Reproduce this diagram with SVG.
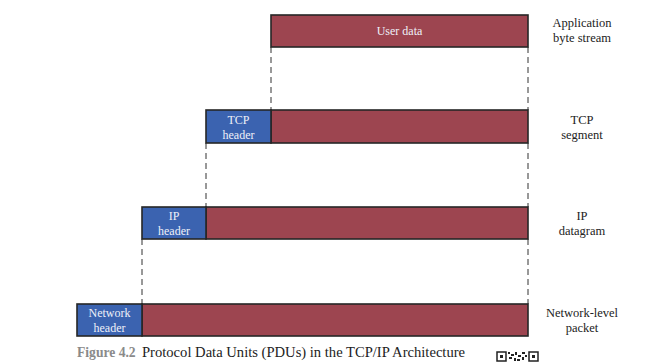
<svg xmlns="http://www.w3.org/2000/svg" width="667" height="364" viewBox="0 0 667 364">
<style>
.data{fill:#9d4550;stroke:#262626;stroke-width:1.6}
.hdr{fill:#3b63b0;stroke:#262626;stroke-width:1.6}
.dash{stroke:#333;stroke-width:1;stroke-dasharray:6,4;fill:none}
.ht{font-family:"Liberation Serif",serif;font-size:12px;fill:#eef0f8;text-anchor:middle}
.lt{font-family:"Liberation Serif",serif;font-size:12.5px;fill:#222;text-anchor:middle}
.cap{font-family:"Liberation Serif",serif;font-size:14.6px;fill:#222}
</style>
<rect width="667" height="364" fill="#fff"/>
<g id="connectors">
<line class="dash" x1="271" y1="47" x2="271" y2="110"/>
<line class="dash" x1="528" y1="47" x2="528" y2="110"/>
<line class="dash" x1="206" y1="143" x2="206" y2="207"/>
<line class="dash" x1="528" y1="143" x2="528" y2="207"/>
<line class="dash" x1="142" y1="239" x2="142" y2="304"/>
<line class="dash" x1="528" y1="239" x2="528" y2="304"/>
</g>
<g id="app">
<rect class="data" x="271" y="15" width="257" height="32"/>
<text class="ht" x="399.5" y="35">User data</text>
<text class="lt" x="582" y="27">Application</text>
<text class="lt" x="582" y="42">byte stream</text>
</g>
<g id="tcp">
<rect class="data" x="271" y="110" width="257" height="33"/>
<rect class="hdr" x="206" y="110" width="65" height="33"/>
<text class="ht" x="238.5" y="124">TCP</text>
<text class="ht" x="238.5" y="139">header</text>
<text class="lt" x="582" y="124">TCP</text>
<text class="lt" x="582" y="139">segment</text>
</g>
<g id="ip">
<rect class="data" x="206" y="207" width="322" height="32"/>
<rect class="hdr" x="142" y="207" width="64" height="32"/>
<text class="ht" x="174" y="220">IP</text>
<text class="ht" x="174" y="235">header</text>
<text class="lt" x="582" y="220">IP</text>
<text class="lt" x="582" y="235">datagram</text>
</g>
<g id="net">
<rect class="data" x="142" y="304" width="386" height="32"/>
<rect class="hdr" x="77" y="304" width="65" height="32"/>
<text class="ht" x="109.5" y="317">Network</text>
<text class="ht" x="109.5" y="332">header</text>
<text class="lt" x="582" y="317">Network-level</text>
<text class="lt" x="582" y="332">packet</text>
</g>
<g id="caption">
<text class="cap" x="77" y="357"><tspan font-weight="bold" font-size="13.6" fill="#8a8a8a">Figure 4.2</tspan><tspan x="142">Protocol Data Units (PDUs) in the TCP/IP Architecture</tspan></text>
</g>
<g id="qr" fill="#222">
<rect x="497" y="352" width="9" height="9" fill="none" stroke="#222" stroke-width="1.5"/>
<rect x="500" y="355" width="3" height="3"/>
<rect x="529" y="352" width="9" height="9" fill="none" stroke="#222" stroke-width="1.5"/>
<rect x="532" y="355" width="3" height="3"/>
<rect x="508" y="352" width="2" height="2"/>
<rect x="511" y="354" width="3" height="2"/>
<rect x="515" y="352" width="2" height="3"/>
<rect x="518" y="355" width="3" height="2"/>
<rect x="522" y="352" width="3" height="2"/>
<rect x="509" y="357" width="3" height="2"/>
<rect x="514" y="358" width="2" height="3"/>
<rect x="517" y="359" width="3" height="2"/>
<rect x="522" y="357" width="2" height="3"/>
<rect x="525" y="355" width="2" height="2"/>
</g>
</svg>
